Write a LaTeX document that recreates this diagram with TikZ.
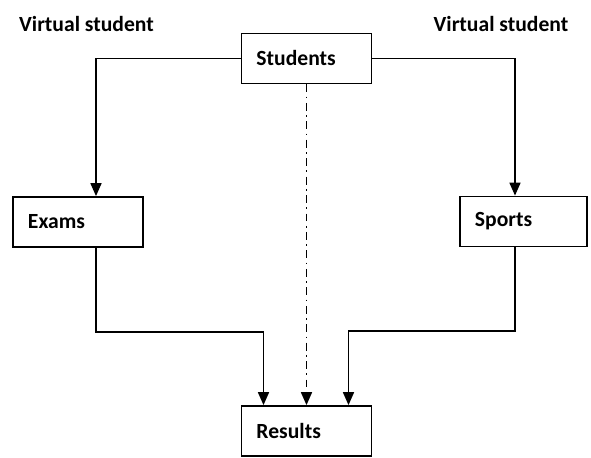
\documentclass[tikz,border=0pt]{standalone}
\usepackage{fontspec}
\setmainfont{Carlito}
\usetikzlibrary{arrows.meta}
\begin{document}
\begin{tikzpicture}[font=\bfseries\fontsize{12.3}{14}\selectfont,
	box/.style={draw, line width=1pt, minimum height=1cm, text width=2cm, inner xsep=0.3cm, align=left},
	flow/.style={line width=1pt, -{Triangle[width=0.22cm,length=0.26cm]}}]
	\useasboundingbox (0,0) rectangle (11.82,9.16);
	\node[box] (students) at (6.13,7.99) {Students};
	\node[box] (exams) at (1.56,4.72) {Exams};
	\node[box, text width=1.94cm] (sports) at (10.47,4.73) {Sports};
	\node[box] (results) at (6.13,0.54) {Results};
	\node (vleft) at (1.73,8.68) {Virtual student};
	\node (vright) at (10.02,8.68) {Virtual student};
	\draw[flow] (students.west) -| ([xshift=0.36cm]exams.north);
	\draw[flow] (students.east) -| ([xshift=-0.17cm]sports.north);
	\draw[flow] ([xshift=0.36cm]exams.south) -- ++(0,-1.68) -| ([xshift=-0.86cm]results.north);
	\draw[flow] ([xshift=-0.17cm]sports.south) -- ++(0,-1.68) -| ([xshift=0.84cm]results.north);
	\draw[flow, dash pattern=on 4.5pt off 2.5pt on 1pt off 2.5pt] (students.south) -- (results.north);
\end{tikzpicture}
\end{document}
